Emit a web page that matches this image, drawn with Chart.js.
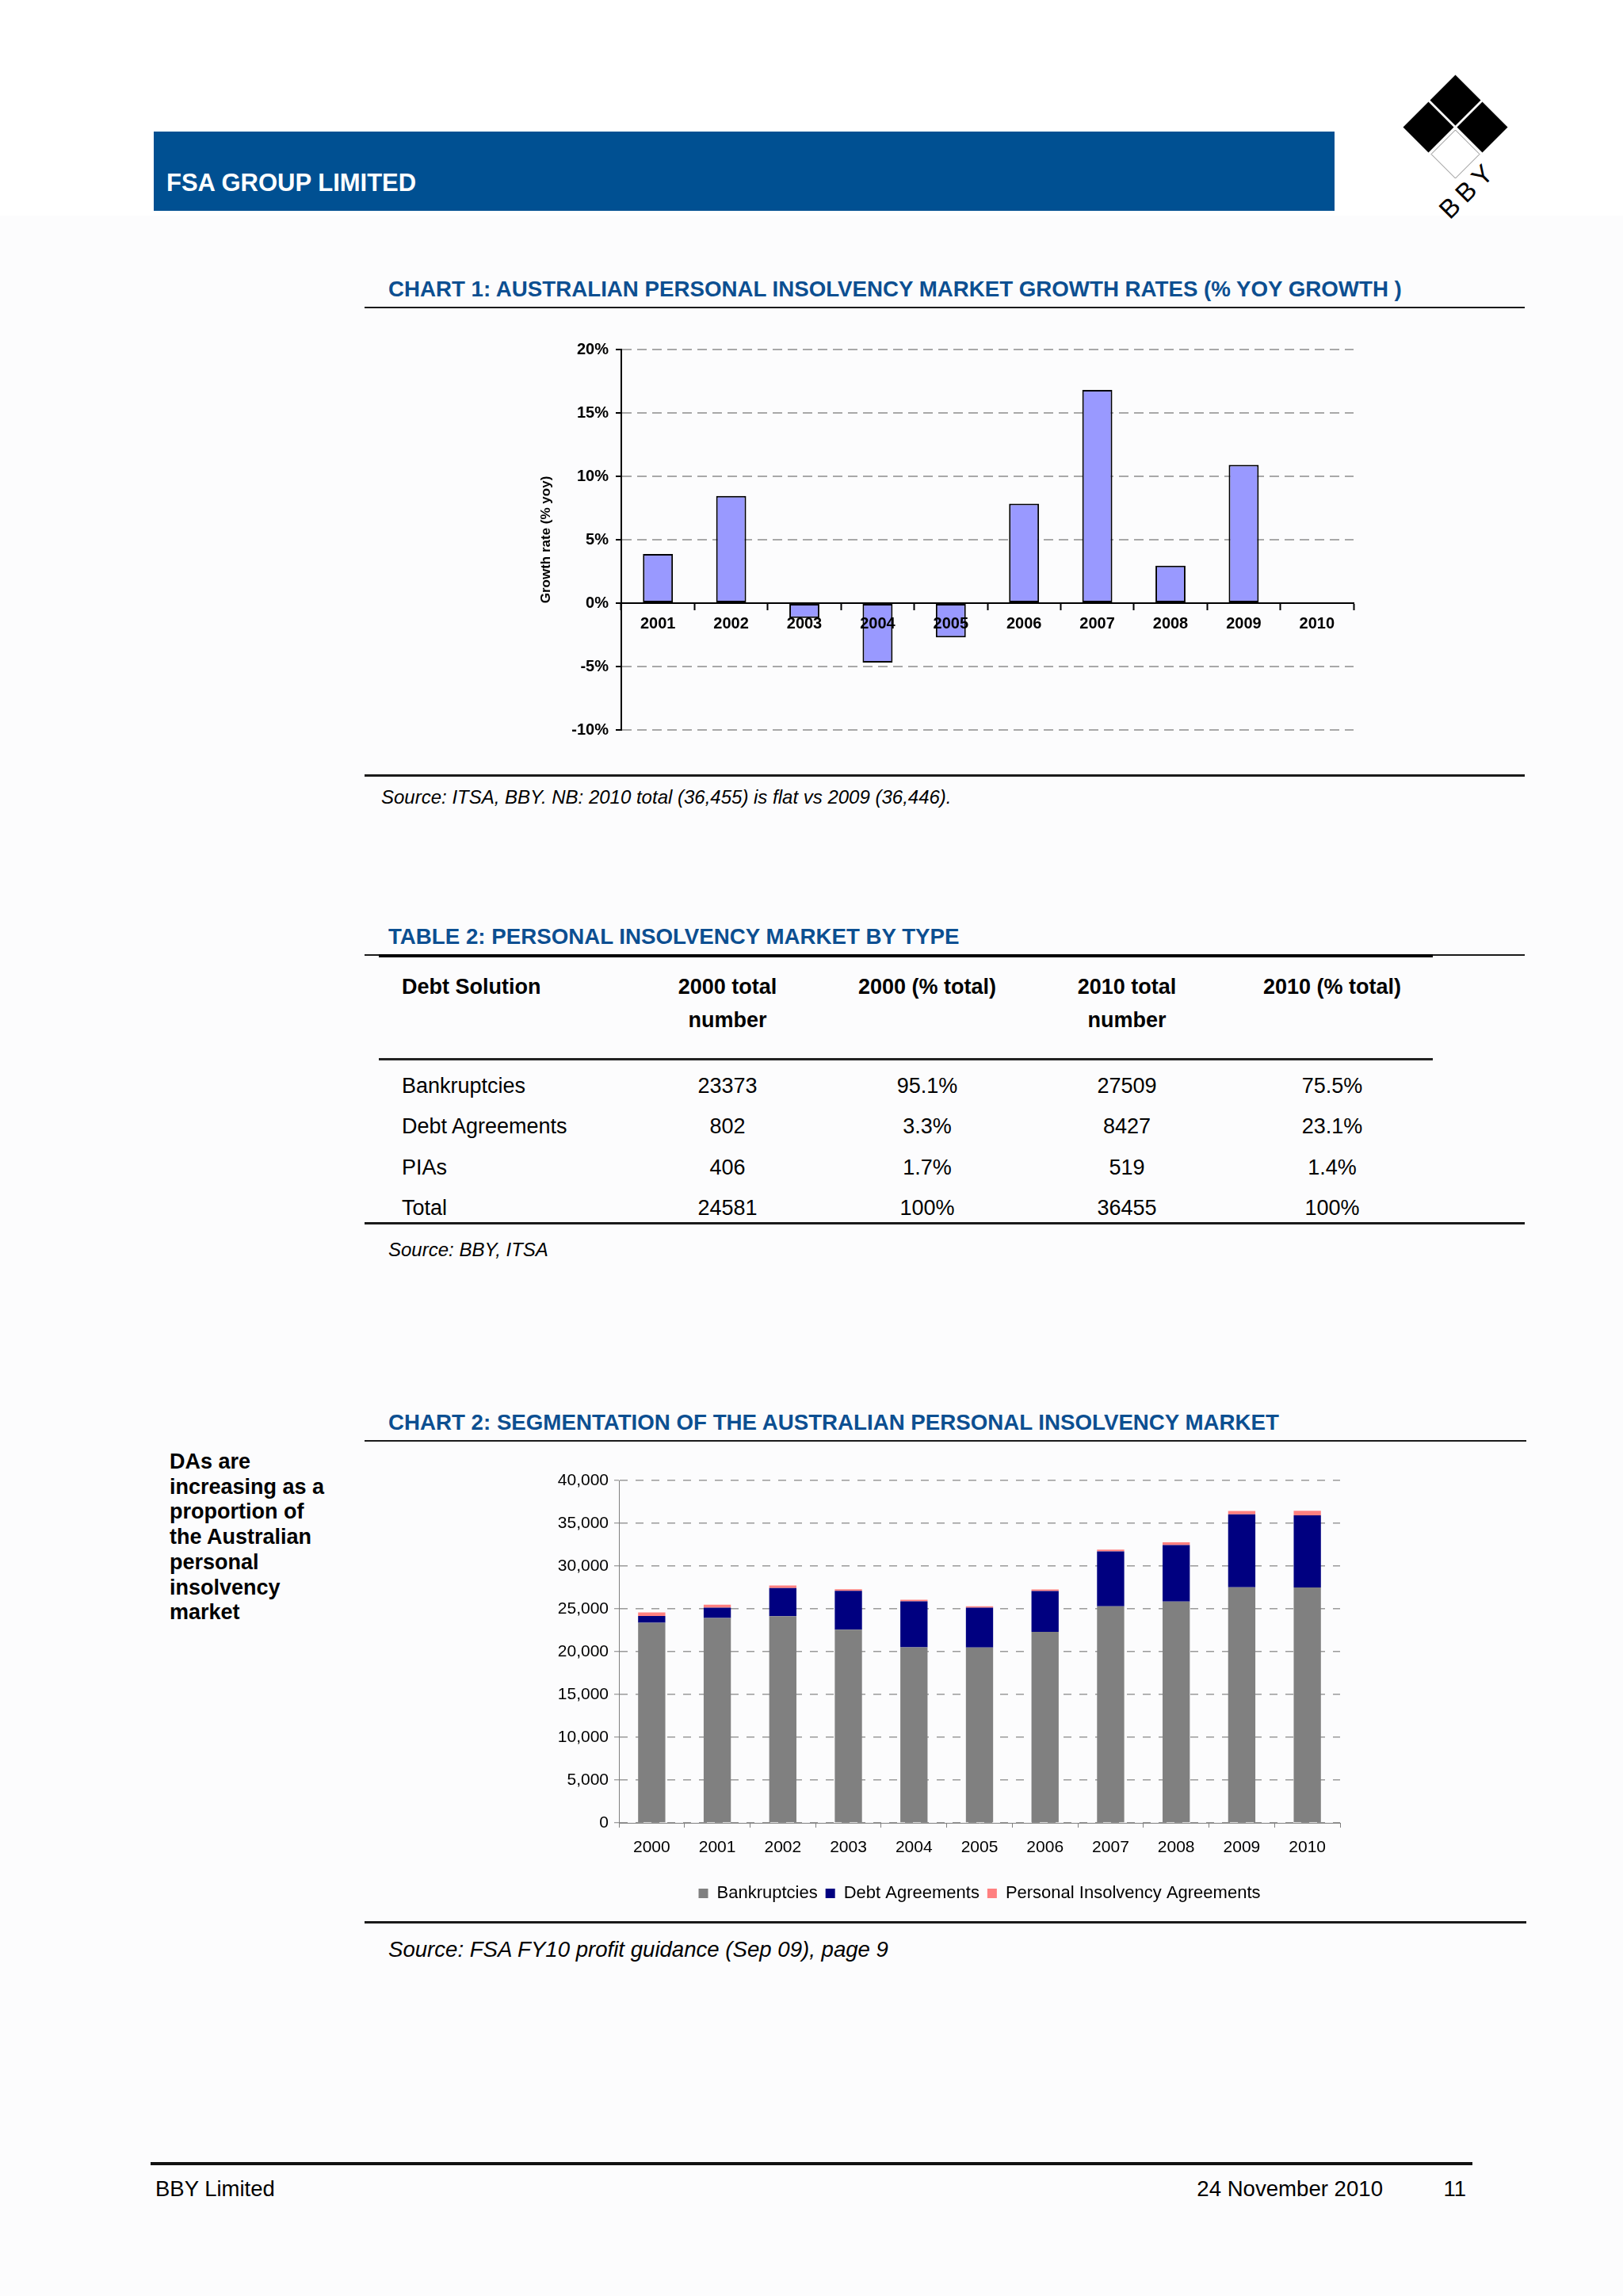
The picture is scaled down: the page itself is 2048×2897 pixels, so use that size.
<!DOCTYPE html>
<html>
<head>
<meta charset="utf-8">
<script src="https://cdn.jsdelivr.net/npm/chart.js@4.4.0/dist/chart.umd.min.js"></script>
<style>
  body { margin: 0; width: 2048px; height: 2897px; position: relative; overflow: hidden;
         background: #fcfcfd; font-family: "Liberation Sans", Arial, sans-serif; color: #000; }
  .abs { position: absolute; white-space: nowrap; line-height: 32px; }
  .rule { position: absolute; background: #1a1a1a; }
  .title { font-weight: bold; font-size: 27.7px; color: #0c4f91; }
  .src { font-style: italic; }
  .cell { position: absolute; white-space: nowrap; font-size: 27px; line-height: 32px; }
</style>
</head>
<body>
<div style="position:absolute;left:0;top:0;width:2048px;height:272px;background:#fff"></div>

<!-- header band -->
<div style="position:absolute;left:194px;top:166px;width:1490px;height:100px;background:#005092"></div>
<div class="abs" style="left:210px;top:215px;font-size:31px;font-weight:bold;color:#fff">FSA GROUP LIMITED</div>

<!-- BBY logo -->
<svg style="position:absolute;left:1740px;top:80px" width="200" height="200" viewBox="0 0 200 200">
  <polygon points="96.5,14.5 128.5,46.5 96.5,78.5 64.5,46.5" fill="#000"/>
  <polygon points="62.5,48.5 94.5,80.5 62.5,112.5 30.5,80.5" fill="#000"/>
  <polygon points="130.5,48.5 162.5,80.5 130.5,112.5 98.5,80.5" fill="#000"/>
  <polygon points="96.5,84 127,114.5 96.5,145 66,114.5" fill="#fff" stroke="#666" stroke-width="0.8"/>
  <text x="0" y="0" transform="translate(114,161) rotate(-45)" text-anchor="middle" dominant-baseline="middle"
        font-family="Liberation Sans, Arial, sans-serif" font-size="33" letter-spacing="7" fill="#000">BBY</text>
</svg>

<!-- chart 1 -->
<div class="abs title" style="left:490px;top:349px">CHART 1: AUSTRALIAN PERSONAL INSOLVENCY MARKET GROWTH RATES (% YOY GROWTH )</div>
<div class="rule" style="left:460px;top:387px;width:1464px;height:2px"></div>
<canvas id="growth" width="1130" height="540" style="position:absolute;left:600px;top:420px"></canvas>
<div class="rule" style="left:460px;top:977px;width:1464px;height:3px"></div>
<div class="abs src" style="left:481px;top:990px;font-size:24px">Source: ITSA, BBY. NB: 2010 total (36,455) is flat vs 2009 (36,446).</div>

<!-- table 2 -->
<div class="abs title" style="left:490px;top:1166px">TABLE 2: PERSONAL INSOLVENCY MARKET BY TYPE</div>
<div class="rule" style="left:460px;top:1204px;width:1464px;height:2px"></div>
<div class="rule" style="left:478px;top:1204px;width:1330px;height:4px;background:#000"></div>
<div id="table"></div>
<div class="rule" style="left:478px;top:1335px;width:1330px;height:3px;background:#222"></div>
<div class="rule" style="left:460px;top:1542px;width:1464px;height:3px"></div>
<div class="abs src" style="left:490px;top:1561px;font-size:24px">Source: BBY, ITSA</div>

<!-- chart 2 -->
<div class="abs title" style="left:490px;top:1779px">CHART 2: SEGMENTATION OF THE AUSTRALIAN PERSONAL INSOLVENCY MARKET</div>
<div class="rule" style="left:460px;top:1817px;width:1466px;height:2px"></div>
<div style="position:absolute;left:214px;top:1829px;font-size:27px;font-weight:bold;line-height:31.7px">
  DAs are<br>increasing as a<br>proportion of<br>the Australian<br>personal<br>insolvency<br>market
</div>
<canvas id="segments" width="1080" height="572" style="position:absolute;left:640px;top:1848px"></canvas>
<div class="rule" style="left:460px;top:2424px;width:1466px;height:3px"></div>
<div class="abs src" style="left:490px;top:2444px;font-size:27.6px">Source: FSA FY10 profit guidance (Sep 09), page 9</div>

<!-- footer -->
<div class="rule" style="left:190px;top:2728px;width:1668px;height:4px;background:#111"></div>
<div class="abs" style="left:196px;top:2746px;font-size:27.5px">BBY Limited</div>
<div class="abs" style="right:303px;top:2746px;font-size:27.6px">24 November 2010</div>
<div class="abs" style="right:198px;top:2746px;font-size:27.5px">11</div>

<script>
// Chart 1: growth rates
const growthYears = ['2001', '2002', '2003', '2004', '2005', '2006', '2007', '2008', '2009', '2010'];
const growthRates = [3.87, 8.46, -1.17, -4.69, -2.71, 7.85, 16.81, 2.96, 10.9, 0.02];
const growthRange = [-10, 20];
const growthStep = 5;

// Chart 2: segmentation
const segYears = ['2000', '2001', '2002', '2003', '2004', '2005', '2006', '2007', '2008', '2009', '2010'];
const bankruptcies = [23373, 23940, 24150, 22580, 20520, 20490, 22310, 25290, 25850, 27520, 27509];
const debtAgreements = [802, 1200, 3270, 4530, 5360, 4650, 4770, 6430, 6610, 8520, 8427];
const pias = [406, 340, 305, 185, 185, 150, 180, 190, 310, 406, 519];
const segRange = [0, 40000];
const segStep = 5000;

// Table 2
const tableHead = [['Debt Solution', ''], ['2000 total', 'number'], ['2000 (% total)', ''], ['2010 total', 'number'], ['2010 (% total)', '']];
const tableRows = [
    ['Bankruptcies', '23373', '95.1%', '27509', '75.5%'],
    ['Debt Agreements', '802', '3.3%', '8427', '23.1%'],
    ['PIAs', '406', '1.7%', '519', '1.4%'],
    ['Total', '24581', '100%', '36455', '100%']
];

const FONT = '"Liberation Sans", Arial, sans-serif';
Chart.defaults.font.family = FONT;
Chart.defaults.color = '#000';

// table build
const colX = [507, 918, 1170, 1422, 1681];
const headY = [1245, 1287];
const rowY = [1370, 1421, 1473, 1524];
const table = document.getElementById('table');
function addCell(text, col, y, bold) {
    const d = document.createElement('div');
    d.className = 'cell';
    d.textContent = text;
    d.style.top = (y - 16) + 'px';
    if (bold) d.style.fontWeight = 'bold';
    if (col == 0) {
        d.style.left = colX[0] + 'px';
    } else {
        d.style.left = (colX[col] - 200) + 'px';
        d.style.width = '400px';
        d.style.textAlign = 'center';
    }
    table.appendChild(d);
}
tableHead.forEach((h, c) => {
    addCell(h[0], c, headY[0], true);
    if (h[1]) addCell(h[1], c, headY[1], true);
});
tableRows.forEach((r, i) => {
    r.forEach((v, c) => addCell(v, c, rowY[i], false));
});

// Chart 1
new Chart(document.getElementById('growth'), {
    type: 'bar',
    data: {
        labels: growthYears,
        datasets: [{
            data: growthRates,
            backgroundColor: '#9999ff',
            borderColor: '#000',
            borderWidth: 2,
            borderSkipped: false,
            barPercentage: 0.41,
            categoryPercentage: 1
        }]
    },
    options: {
        responsive: false,
        animation: false,
        layout: { padding: { top: 21, bottom: 39, left: 0, right: 22 } },
        plugins: { legend: { display: false }, tooltip: { enabled: false } },
        scales: {
            x: {
                position: { y: 0 },
                grid: { drawOnChartArea: false, tickLength: 8, tickColor: '#000', tickWidth: 2, offset: true, z: 1 },
                border: { color: '#000', width: 2, z: 1 },
                ticks: { color: '#000', font: { size: 20, weight: 'bold' }, padding: 6, z: 1 }
            },
            y: {
                min: growthRange[0],
                max: growthRange[1],
                afterFit: (s) => { s.width = 184; },
                ticks: { stepSize: growthStep, padding: 9, font: { size: 20, weight: 'bold' }, callback: (v) => v + '%' },
                grid: { color: '#a8a8a8', lineWidth: 2, tickLength: 7, tickColor: '#000', tickWidth: 2 },
                border: { color: '#000', width: 2, dash: [12, 7] },
                title: { display: true, text: 'Growth rate (% yoy)', font: { size: 17, weight: 'bold' }, padding: { top: 79 } }
            }
        }
    }
});

// Chart 2
new Chart(document.getElementById('segments'), {
    type: 'bar',
    data: {
        labels: segYears,
        datasets: [
            { label: 'Bankruptcies', data: bankruptcies, backgroundColor: '#808080' },
            { label: 'Debt Agreements', data: debtAgreements, backgroundColor: '#000080' },
            { label: 'Personal Insolvency Agreements', data: pias, backgroundColor: '#ff8080' }
        ]
    },
    options: {
        responsive: false,
        animation: false,
        layout: { padding: { top: 20, bottom: 10, left: 0, right: 29 } },
        datasets: { bar: { barPercentage: 0.415, categoryPercentage: 1, borderWidth: 0 } },
        plugins: {
            tooltip: { enabled: false },
            legend: {
                position: 'bottom',
                fullSize: false,
                labels: { boxWidth: 12, boxHeight: 12, padding: 10, color: '#000', font: { size: 22 } }
            }
        },
        scales: {
            x: {
                stacked: true,
                afterFit: (s) => { s.height = 68; },
                grid: { drawOnChartArea: false, tickLength: 6, color: '#808080', offset: true },
                border: { color: '#808080', width: 1 },
                ticks: { font: { size: 21 }, padding: 13 }
            },
            y: {
                stacked: true,
                min: segRange[0],
                max: segRange[1],
                afterFit: (s) => { s.width = 141; },
                ticks: { stepSize: segStep, padding: 7, font: { size: 21 }, callback: (v) => v.toLocaleString('en-US') },
                grid: { color: '#9a9a9a', lineWidth: 1.5, tickLength: 6, tickColor: '#808080', tickWidth: 1 },
                border: { color: '#808080', width: 1, dash: [10, 10] }
            }
        }
    }
});
</script>
</body>
</html>
